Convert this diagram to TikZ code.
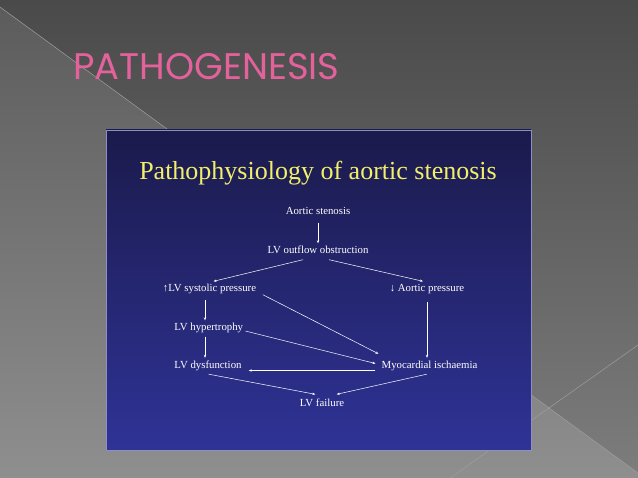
\documentclass[tikz,border=0pt]{standalone}
\usepackage{fontspec}
\setmainfont{Liberation Serif}
\newfontfamily\headfont{Poppins}
\usetikzlibrary{arrows.meta}
\definecolor{slidepink}{HTML}{E4629C}
\definecolor{slideyellow}{HTML}{F2F06A}
\definecolor{navytop}{HTML}{1B1A4C}
\definecolor{navybot}{HTML}{2F3396}
\begin{document}
\begin{tikzpicture}[x=1pt,y=-1pt,
		lbl/.style={text=white,font=\fontsize{10.8}{12}\selectfont,inner sep=3pt,text height=7.5pt,text depth=2.5pt,anchor=base},
		arr/.style={draw=white,line width=0.5pt,-{Stealth[length=3pt,width=2.4pt]}},
		streak/.style={draw=white!62!black,line width=0.5pt}]
			\useasboundingbox (0,0) rectangle (638,478);
			\shade[top color=white!29!black,bottom color=white!49!black] (0,0) rectangle (638,478);
			\shade[top color=white!36!black,bottom color=white!56!black] (0,7) -- (638,473) -- (638,478) -- (0,478) -- cycle;
			\draw[streak] (0,7) -- (638,473);
			\draw[streak] (638,345) -- (450,478);
			\shade[top color=navytop,bottom color=navybot,draw=white!45!navybot,line width=0.4pt] (106,130) rectangle (531,450);
			\node[text=slidepink,font=\headfont\fontsize{37}{40}\selectfont,anchor=base west,inner sep=0pt] (title) at (73,79.5) {PATHOGENESIS};
			\node[text=slideyellow,font=\fontsize{26}{30}\selectfont,anchor=base] (head) at (318,180) {Pathophysiology of aortic stenosis};
			\node[lbl] (stenosis) at (318,215) {Aortic stenosis};
			\node[lbl] (outflow) at (318,254) {LV outflow obstruction};
			\node[lbl] (sys) at (209.5,292) {↑LV systolic pressure};
			\node[lbl] (aop) at (427,292) {↓ Aortic pressure};
			\node[lbl] (hyp) at (208.7,331) {LV hypertrophy};
			\node[lbl] (dys) at (208,368.5) {LV dysfunction};
			\node[lbl] (myo) at (429.5,368.5) {Myocardial ischaemia};
			\node[lbl] (fail) at (322,407) {LV failure};
			\draw[arr,shorten <=2pt] (stenosis) -- (outflow);
			\draw[arr] ([xshift=-15pt]outflow.south) -- ([xshift=4pt]sys.north);
			\draw[arr] ([xshift=11pt]outflow.south) -- ([xshift=-4pt]aop.north);
			\draw[arr,shorten <=2pt] ([xshift=-4.5pt]sys.south) -- ([xshift=-4.5pt]sys.south |- hyp.north);
			\draw[arr] ([xshift=-3.7pt]hyp.south) -- ([xshift=-3.7pt]hyp.south |- dys.north);
			\draw[arr] ([xshift=3.5pt,yshift=3pt]sys.south east) -- ([yshift=4pt]myo.north west);
			\draw[arr] ([xshift=-1pt,yshift=-2.5pt]hyp.east) -- ([xshift=-3pt,yshift=2.5pt]myo.west);
			\draw[arr,shorten <=4pt] (aop.south) -- (aop.south |- myo.north);
			\draw[arr] ([xshift=-3pt,yshift=-4.5pt]myo.west) -- ([xshift=4pt,yshift=-4.5pt]dys.east);
			\draw[arr] ([xshift=0.7pt]dys.south) -- ([xshift=-6.7pt,yshift=2pt]fail.north);
			\draw[arr] ([xshift=-2.8pt]myo.south) -- ([xshift=14.7pt,yshift=2pt]fail.north);
\end{tikzpicture}
\end{document}
